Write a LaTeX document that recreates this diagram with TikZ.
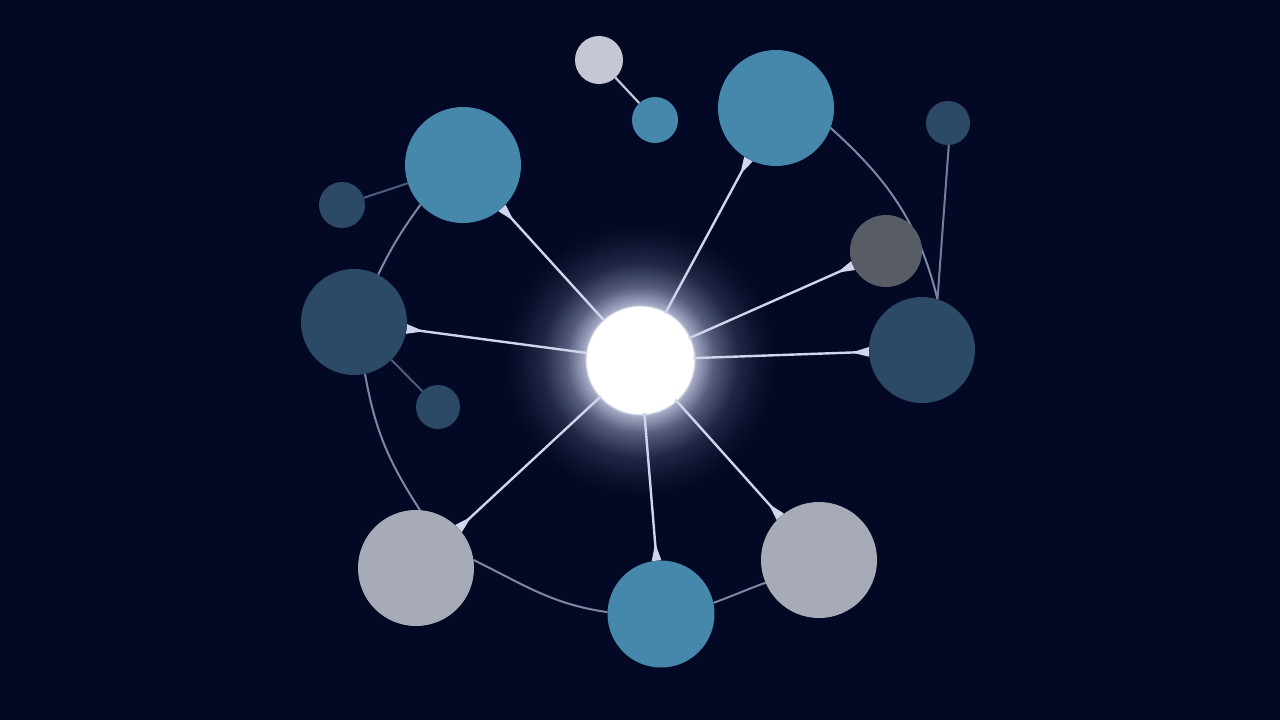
\documentclass[tikz,border=0pt]{standalone}
\usetikzlibrary{arrows.meta}
\definecolor{bg}{RGB}{3,9,36}
\definecolor{cblue}{RGB}{70,136,172}
\definecolor{cdark}{RGB}{44,73,101}
\definecolor{cgrayd}{RGB}{88,92,100}
\definecolor{cgrayl}{RGB}{167,171,183}
\definecolor{cgraylt}{RGB}{197,200,212}
\definecolor{cspoke}{RGB}{208,213,236}
\definecolor{carc}{RGB}{125,135,165}
\definecolor{cthin}{RGB}{78,94,124}
\definecolor{gla}{RGB}{165,170,198}
\definecolor{glb}{RGB}{88,93,125}
\definecolor{glc}{RGB}{32,38,68}
\definecolor{gld}{RGB}{12,18,46}
\pgfdeclareradialshading{glow}{\pgfpoint{0bp}{0bp}}{color(0bp)=(white); color(9.8bp)=(white); color(10.2bp)=(gla); color(13.5bp)=(glb); color(18bp)=(glc); color(22bp)=(gld); color(25bp)=(bg); color(50bp)=(bg)}
\pgfdeclarelayer{back}
\pgfdeclarelayer{mid}
\pgfsetlayers{back,mid,main}
\begin{document}
\begin{tikzpicture}[x=0.5pt,y=-0.5pt,
  ball/.style n args={2}{circle,inner sep=0pt,outer sep=0pt,fill=#1,minimum size=#2},
  spoke/.style={draw=cspoke,line width=1.2pt,-{Triangle[reversed,length=9pt,width=4.5pt]}},
  arcline/.style={draw=carc,line width=1pt},
  thinline/.style={draw=cthin,line width=1pt},
  lightline/.style={draw=cgraylt,line width=1.1pt},
  stemline/.style={draw=carc!85!cdark,line width=1pt}]
\useasboundingbox (0,0) rectangle (1280,720);
% nodes
\node[ball={cblue}{58pt}] (B1) at (463,165) {};
\node[ball={cblue}{58pt}] (B2) at (776,108) {};
\node[ball={cgraylt}{24pt}] (G1) at (599,60) {};
\node[ball={cblue}{23pt}] (B3) at (655,120) {};
\node[ball={cdark}{22pt}] (D1) at (948,123) {};
\node[ball={cgrayd}{36pt}] (G2) at (886,251) {};
\node[ball={cdark}{53pt}] (D2) at (922,350) {};
\node[ball={cdark}{53pt}] (D3) at (354,322) {};
\node[ball={cdark}{23pt}] (D4) at (342,205) {};
\node[ball={cdark}{22pt}] (D5) at (438,407) {};
\node[ball={cgrayl}{58pt}] (L1) at (416,568) {};
\node[ball={cblue}{53.5pt}] (B4) at (661,614) {};
\node[ball={cgrayl}{58pt}] (L2) at (819,560) {};
\node[ball={white}{53pt}] (C) at (640,360) {};
\begin{pgfonlayer}{back}
  \fill[bg] (0,0) rectangle (1280,720);
  \shade[shading=glow] (C.center) circle[radius=68pt];
\end{pgfonlayer}
\begin{pgfonlayer}{mid}
  % outer arc
  \draw[arcline] (B1.223) to[out=234,in=64] (D3.63);
  \draw[arcline] (D3.282) to[out=-80,in=123] (L1.86);
  \draw[arcline] (L1.8) to[out=-26,in=172] (B4.178);
  \draw[arcline] (B4.12) to[out=20,in=200] (L2.203);
  \draw[arcline] (B2.340) to[out=-42,in=104] (D2.73);
  % side links
  \draw[thinline] (D4) -- (B1);
  \draw[thinline] (D3) -- (D5);
  \draw[lightline] (G1) -- (B3);
  \draw[stemline] (D1.272) -- (D2.73);
  % spokes
  \draw[spoke] (C) -- (B1);
  \draw[spoke] (C) -- (B2);
  \draw[spoke] (C) -- (G2);
  \draw[spoke] (C) -- (D2);
  \draw[spoke] (C) -- (D3);
  \draw[spoke] (C) -- (L1);
  \draw[spoke] (C) -- (B4);
  \draw[spoke] (C) -- (L2);
\end{pgfonlayer}
\end{tikzpicture}
\end{document}
